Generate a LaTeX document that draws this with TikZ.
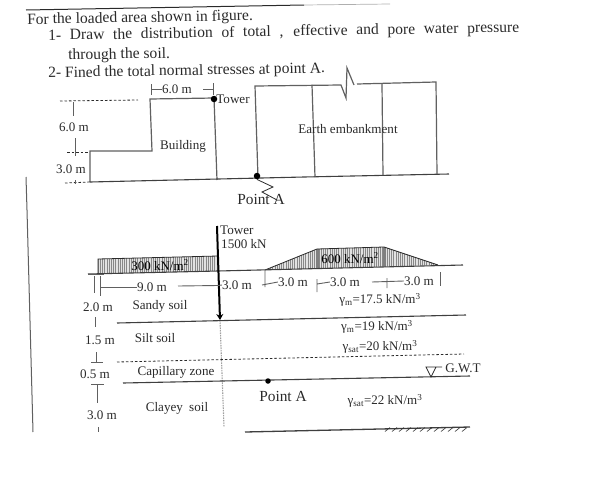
\documentclass[tikz,border=0pt]{standalone}
\usepackage{fontspec}
\setmainfont{Liberation Serif}
\usetikzlibrary{arrows.meta}
\definecolor{ink}{HTML}{2A2A2A}
\definecolor{rule}{HTML}{606060}
\tikzset{
  big/.style={inner sep=0pt,text=ink,font=\fontsize{15.6}{17}\selectfont,anchor=west,rotate=1},
  lab/.style={inner sep=0pt,text=ink,font=\fontsize{13.1}{15}\selectfont},
  ptlab/.style={inner sep=0pt,text=ink,font=\fontsize{15.4}{17}\selectfont},
  small/.style={inner sep=0pt,text=ink,font=\fontsize{13}{15}\selectfont},
  wall/.style={draw=rule,line width=1.2pt},
  ground/.style={draw=ink!90,line width=1.1pt},
  tickl/.style={draw=rule,line width=0.9pt},
  dash line/.style={draw=ink,line width=0.8pt,dash pattern=on 2.5pt off 2pt},
  dotm/.style={circle,fill=black,inner sep=0pt,minimum size=6.5pt},
  hatchl/.style={draw=rule!75,line width=0.35pt}
}
\newcommand{\gm}{γ\textsubscript{m}}
\newcommand{\gs}{γ\textsubscript{sat}}
\begin{document}
\begin{tikzpicture}[x=1pt,y=-1pt]
\useasboundingbox (0,0) rectangle (608,477);
% frame rules
\draw[draw=ink,line width=1pt] (26,10) -- (304,5);
\draw[draw=rule!50,line width=0.7pt] (304,5) -- (390,4);
\draw[rule,line width=1pt] (26,177) -- (27,210) -- (33,432);
% header text
\node[big] (t1) at (27,20.5) {For the loaded area shown in figure.};
\node[big] (t2) at (48,36.5) {\makebox[471pt][s]{1- Draw the distribution of total , effective and pore water pressure}};
\node[big] (t3) at (68,56) {through the soil.};
\node[big] (t4) at (48,74) {2- Fined the total normal stresses at point A.};
% top elevation
\draw[wall] (90,182) -- (90,151) -- (152,151) -- (150,99) -- (214,98) -- (217,180);
\draw[ground] (90,182) -- (304,177) -- (449,174);
\draw[wall] (258,178) -- (255,86) -- (341,85) -- (346,98) -- (347,68) -- (354,85);
\draw[wall] (357,84) -- (436,82) -- (437,174);
\draw[wall] (312,85) -- (315,177);
\draw[wall] (382,84) -- (383,175);
\node[dotm] (tw) at (214,99) {};
\node[dotm] (pa) at (257,176) {};
\node[ptlab] (pal) at (261,199) {Point A};
\draw[ink,line width=0.8pt] (pa.south) -- (273,187) -- (262,192) -- (277,200);
\node[lab] (t5) at (233,99) {Tower};
\node[lab] (t6) at (183,146) {Building};
\node[lab] (t7) at (348,129) {Earth embankment};
\node[small] (d1) at (177,89) {6.0 m};
\draw[tickl] (151,84) -- (151,95) (151,89) -- (d1.west);
\draw[tickl] (213,83) -- (213,95) (203,89) -- (213,89);
\draw[dash line] (60,101) -- (138,100);
\node[small] (d2) at (74,127) {6.0 m};
\node[small] (d3) at (71,169) {3.0 m};
\draw[tickl] (73,102) -- (73,116);
\draw[tickl] (75,138) -- (75,156);
\draw[dash line] (67,152) -- (88,152);
\draw[dash line] (65,183) -- (90,182);
\draw[tickl] (75,180) -- (75,184);
% loads
\fill[rule!18] (98,259) -- (218,256) -- (218,271) -- (98,274) -- cycle;
\foreach \x in {98,100.2,...,218} {\draw[hatchl] (\x,{259-(\x-98)*0.025}) -- (\x,{274-(\x-98)*0.025});}
\draw[ink,line width=0.8pt] (98,274) -- (98,259) -- (218,256);
\begin{scope}
\clip (265,270) -- (317,249) -- (384,247) -- (438,265) -- cycle;
\fill[rule!18] (265,270) rectangle (438,247);
\foreach \x in {266,268.2,...,438} {\draw[hatchl] (\x,247) -- (\x,271);}
\fill[rule!80] (315.5,247) rectangle (318.5,271);
\fill[rule!80] (382.5,247) rectangle (385.5,271);
\end{scope}
\draw[ink,line width=0.8pt] (265,270) -- (317,249) -- (384,247) -- (438,265);
\draw[ground] (88,274) -- (218,271) -- (463,265);
\node[small,text=black] (q1) at (160,265) {300 kN/m\textsuperscript{2}};
\node[small,text=black] (q2) at (350,258) {600 kN/m\textsuperscript{2}};
% tower load
\coordinate (ta) at (217,226);
\coordinate (tb) at (220,320);
\draw[rule!60,line width=1.1pt,dash pattern=on 1.5pt off 1pt] (220,320) -- (224,427);
\draw[black,line width=2pt,-{Stealth[length=6pt,width=7pt]}] (ta) -- (tb);
\node[lab,anchor=west] (t8) at (220,230) {Tower};
\node[lab,anchor=west] (t9) at (221,244) {1500 kN};
% plan dimensions
\node[lab] (m1) at (152,287) {9.0 m};
\node[lab] (m2) at (237,285) {3.0 m};
\node[lab] (m3) at (293,282) {3.0 m};
\node[lab] (m4) at (345,282) {3.0 m};
\node[lab] (m5) at (419,281) {3.0 m};
\draw[tickl] (94,276) -- (94,293);
\draw[tickl] (100,276) -- (100,296) (100,287) -- (m1.west);
\draw[tickl] (178,286) -- (218,285.5) -- (m2.west);
\draw[tickl] (265,270) -- (265,287) (262,285) -- (m3.west);
\draw[tickl] (317,279) -- (317,292) (317,284) -- (m4.west);
\draw[tickl] (372,282) -- (m5.west) (387,278) -- (387,288);
\draw[tickl] (440,272) -- (440,286);
% soil layers
\draw[ground] (117,323) -- (466,315);
\draw[dash line] (117,362) -- (464,354);
\draw[ground] (123,383) -- (470,376);
\node[dotm,minimum size=5.5pt] (pb) at (268,381) {};
\node[ptlab] (pbl) at (283,396) {Point A};
\draw[ground,line width=1.3pt] (245,432) -- (470,427);
\foreach \x in {385,392,...,462} {\draw[ink,line width=0.6pt] (\x,431.5) -- ++(5,-4);}
\node[lab] (s1) at (160,306) {Sandy soil};
\node[lab] (s2) at (155,338) {Silt soil};
\node[lab] (s3) at (176,372) {Capillary zone};
\node[lab] (s4) at (177,408) {Clayey\hspace{3pt} soil};
\node[small] (g1) at (380,300) {\gm=17.5 kN/m\textsuperscript{3}};
\node[small] (g2) at (377,327) {\gm=19 kN/m\textsuperscript{3}};
\node[small] (g3) at (380,347) {\gs=20 kN/m\textsuperscript{3}};
\node[small] (g4) at (385,401) {\gs=22 kN/m\textsuperscript{3}};
% depth dimensions
\node[lab] (h1) at (98,307) {2.0 m};
\node[lab] (h2) at (100,340) {1.5 m};
\node[lab] (h3) at (95,374) {0.5 m};
\node[lab] (h4) at (102,415) {3.0 m};
\draw[tickl] (95,317) -- (95,327);
\draw[tickl] (96,352) -- (96,362) (91,362) -- (103,362);
\draw[tickl] (91,384) -- (104,384) (97,384) -- (97,403);
\draw[tickl] (98,427) -- (98,432);
\draw[tickl] (88,274) -- (104,274);
% water table
\node[lab] (w) at (463,368) {G.W.T};
\draw[ink,line width=0.8pt] (w.west) ++(-3,-1) -- (426,367) -- (431,377) -- (436,367);
\end{tikzpicture}
\end{document}
